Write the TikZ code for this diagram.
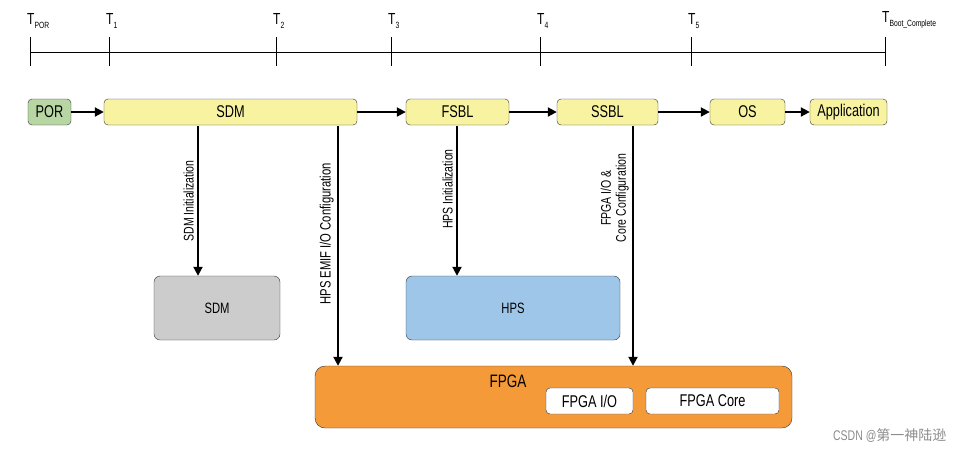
\documentclass[tikz,border=0pt]{standalone}
\usepackage{fontspec}
\setmainfont{Liberation Sans}[FakeStretch=0.75]
\newfontfamily\cjk{Noto Sans CJK SC}
\usetikzlibrary{positioning,arrows.meta}

\definecolor{stageyellow}{RGB}{248,243,160}
\definecolor{porgreen}{RGB}{183,214,164}
\definecolor{hpsblue}{RGB}{158,198,232}
\definecolor{fpgaorange}{RGB}{245,154,56}
\definecolor{sdmgray}{RGB}{204,204,204}

\tikzset{
  stage/.style={draw=black!80, rounded corners=4pt, fill=stageyellow, font=\fontsize{17}{17}\selectfont},
  block/.style={draw=black!80, rounded corners=6pt, font=\fontsize{15}{15}\selectfont},
  flow/.style={-{Triangle[length=9pt,width=9pt]}, line width=2pt},
  tick/.style={font=\fontsize{16}{16}\selectfont}
}

\begin{document}
\begin{tikzpicture}[x=1pt,y=-1pt]
        \useasboundingbox (0,0) rectangle (965,453);

        % Timeline
        \draw[line width=1pt] (30,52) -- (885,52);
        \foreach \x/\t in {30/POR,109/1,276/2,391/3,540/4,691/5,885/Boot\_Complete} {
          \draw[line width=1pt] (\x,37) -- (\x,66);
          \node[tick, anchor=south west, inner sep=0pt] at (\x-3,29) {T\raisebox{-4pt}{\fontsize{9}{9}\selectfont\t}};
        }

        % Boot stages
        \node[stage, fill=porgreen, minimum width=43pt, minimum height=26pt] (por) at (49.5,112) {POR};
        \node[stage, minimum width=253pt, minimum height=26pt] (sdm) at (230.5,112) {SDM};
        \node[stage, minimum width=103pt, minimum height=26pt] (fsbl) at (457.5,112) {FSBL};
        \node[stage, minimum width=101pt, minimum height=26pt] (ssbl) at (607.5,112) {SSBL};
        \node[stage, minimum width=75pt, minimum height=26pt] (os) at (747.5,112) {OS};
        \node[stage, minimum width=77pt, minimum height=26pt, inner xsep=1pt] (app) at (848.5,112) {Application};

        \draw[flow] (por) -- (sdm);
        \draw[flow] (sdm) -- (fsbl);
        \draw[flow] (fsbl) -- (ssbl);
        \draw[flow] (ssbl) -- (os);
        \draw[flow] (os) -- (app);

        % Targets
        \node[block, fill=sdmgray, minimum width=126pt, minimum height=64pt] (sdmblk) at (217,308) {SDM};
        \node[block, fill=hpsblue, minimum width=214pt, minimum height=64pt] (hps) at (513,308) {HPS};
        \node[block, fill=fpgaorange, rounded corners=10pt, minimum width=477pt, minimum height=62pt] (fpga) at (553.5,397) {};
        \node[font=\fontsize{18}{18}\selectfont] (fpgalbl) at (508,381) {FPGA};
        \node[block, fill=white, rounded corners=4pt, minimum width=87pt, minimum height=26pt, font=\fontsize{17}{17}\selectfont] (fpgaio) at (589.5,401) {FPGA I/O};
        \node[block, fill=white, rounded corners=4pt, minimum width=133pt, minimum height=26pt, font=\fontsize{17}{17}\selectfont] (fpgacore) at (712.5,401) {FPGA Core};

        % Configuration paths
        \coordinate (s1) at (198,126);
        \coordinate (s2) at (338,126);
        \coordinate (s3) at (457,126);
        \coordinate (s4) at (633,126);
        \draw[flow] (s1) -- (s1 |- sdmblk.north)
          node[pos=0.5, rotate=90, anchor=south, font=\fontsize{14}{14}\selectfont] {SDM Initialization};
        \draw[flow] (s2) -- (s2 |- fpga.north)
          node[pos=0.45, rotate=90, anchor=south, font=\fontsize{15}{15}\selectfont] {HPS EMIF I/O Configuration};
        \draw[flow] (s3) -- (s3 |- hps.north)
          node[pos=0.42, rotate=90, anchor=south, font=\fontsize{14}{14}\selectfont] {HPS Initialization};
        \draw[flow] (s4) -- (s4 |- fpga.north)
          node[pos=0.3, rotate=90, anchor=south, align=center, font=\fontsize{14}{15}\selectfont] {FPGA I/O \&\\Core Configuration};

        % Watermark
        \node[black!45, font=\fontsize{14}{14}\selectfont, anchor=east] (mark) at (950,436) {CSDN @{\cjk 第一神陆逊}};
      \end{tikzpicture}
\end{document}
